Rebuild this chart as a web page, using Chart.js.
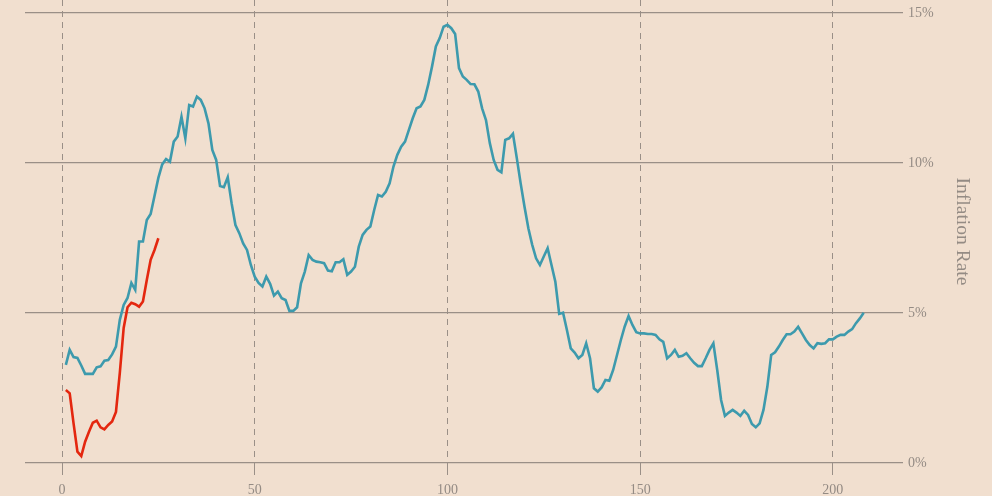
<!DOCTYPE html>
<html>
<head>
<meta charset="utf-8">
<script src="https://cdn.jsdelivr.net/npm/chart.js@4.4.1/dist/chart.umd.min.js"></script>
<style>
html,body{margin:0;padding:0;background:#f1dfcf;}
#wrap{width:992px;height:496px;}
</style>
</head>
<body>
<div id="wrap"><canvas id="c" width="992" height="496"></canvas></div>
<script>
// Series values, one per period starting at period 1
const blueValues = [
  3.27, 3.77, 3.53, 3.50, 3.25, 2.97, 2.97, 2.97, 3.19, 3.22,
  3.41, 3.43, 3.62, 3.88, 4.77, 5.27, 5.50, 6.00, 5.77, 7.38,
  7.38, 8.10, 8.30, 8.90, 9.50, 9.95, 10.13, 10.04, 10.71, 10.88,
  11.54, 10.82, 11.93, 11.88, 12.21, 12.10, 11.82, 11.32, 10.43, 10.10,
  9.23, 9.19, 9.52, 8.66, 7.93, 7.66, 7.32, 7.10, 6.60, 6.21,
  6.00, 5.88, 6.21, 5.97, 5.58, 5.71, 5.49, 5.43, 5.07, 5.07,
  5.19, 5.99, 6.38, 6.93, 6.77, 6.71, 6.69, 6.66, 6.41, 6.39,
  6.69, 6.69, 6.79, 6.27, 6.38, 6.54, 7.21, 7.60, 7.77, 7.88,
  8.43, 8.93, 8.88, 9.04, 9.32, 9.88, 10.27, 10.54, 10.71, 11.10,
  11.49, 11.82, 11.88, 12.10, 12.60, 13.21, 13.88, 14.16, 14.54, 14.60,
  14.49, 14.30, 13.16, 12.88, 12.77, 12.63, 12.62, 12.38, 11.82, 11.43,
  10.66, 10.10, 9.77, 9.69, 10.77, 10.82, 10.97, 10.16, 9.32, 8.54,
  7.82, 7.27, 6.82, 6.60, 6.88, 7.16, 6.60, 6.04, 4.97, 5.01,
  4.43, 3.82, 3.68, 3.49, 3.60, 3.99, 3.49, 2.49, 2.38, 2.52,
  2.77, 2.74, 3.10, 3.60, 4.10, 4.55, 4.90, 4.60, 4.36, 4.32,
  4.32, 4.30, 4.30, 4.27, 4.12, 4.04, 3.49, 3.60, 3.77, 3.54,
  3.57, 3.66, 3.49, 3.34, 3.23, 3.23, 3.49, 3.77, 3.99, 3.10,
  2.10, 1.57, 1.68, 1.77, 1.68, 1.57, 1.74, 1.60, 1.30, 1.19,
  1.32, 1.77, 2.54, 3.60, 3.69, 3.88, 4.10, 4.29, 4.29, 4.38,
  4.54, 4.32, 4.10, 3.93, 3.82, 3.99, 3.97, 3.99, 4.12, 4.12,
  4.21, 4.27, 4.27, 4.38, 4.46, 4.66, 4.82, 5.01
];
const redValues = [
  2.43, 2.32, 1.32, 0.38, 0.23, 0.71, 1.04, 1.34, 1.41, 1.19,
  1.12, 1.27, 1.38, 1.70, 3.00, 4.50, 5.19, 5.34, 5.29, 5.21,
  5.38, 6.10, 6.77, 7.10, 7.49
];
const xTickValues = [0, 50, 100, 150, 200];
const yTickValues = [0, 5, 10, 15];

const toPoints = vals => vals.map((v, i) => ({x: i + 1, y: v}));

const textColor = '#948b84';
const gridColor = '#9a8f87';
const fontFamily = "'Liberation Serif', 'DejaVu Serif', serif";

new Chart(document.getElementById('c'), {
  type: 'line',
  data: {
    datasets: [
      {data: toPoints(blueValues), borderColor: '#3d9aad', borderWidth: 2.6, pointRadius: 0, tension: 0, fill: false},
      {data: toPoints(redValues), borderColor: '#e4270f', borderWidth: 2.6, pointRadius: 0, tension: 0, fill: false}
    ]
  },
  options: {
    responsive: false,
    animation: false,
    devicePixelRatio: 1,
    layout: {padding: {left: 25, right: 0, top: 0, bottom: 0}},
    plugins: {legend: {display: false}, tooltip: {enabled: false}},
    scales: {
      x: {
        type: 'linear', position: 'bottom', min: -9.6, max: 218.2,
        afterBuildTicks: s => { s.ticks = xTickValues.map(v => ({value: v})); },
        afterFit: s => { s.height = 33; s.paddingLeft = 0; s.paddingRight = 0; },
        grid: {color: gridColor, lineWidth: 1, drawTicks: true, tickLength: 12, tickColor: gridColor},
        border: {display: false, dash: [6, 5]},
        ticks: {color: textColor, font: {family: fontFamily, size: 14}, padding: 7, maxRotation: 0}
      },
      y: {
        type: 'linear', position: 'right', min: 0, max: 15.43,
        afterBuildTicks: s => { s.ticks = yTickValues.map(v => ({value: v})); },
        afterFit: s => { s.width = 89; s.paddingTop = 0; s.paddingBottom = 0; },
        grid: {color: gridColor, lineWidth: 1.2, drawTicks: false},
        border: {display: false},
        ticks: {color: textColor, font: {family: fontFamily, size: 14}, padding: 5, callback: v => v + '%'},
        title: {display: true, text: 'Inflation Rate', color: textColor, font: {family: fontFamily, size: 19.5}, padding: {top: 18, bottom: 0}}
      }
    }
  }
});
</script>
</body>
</html>
